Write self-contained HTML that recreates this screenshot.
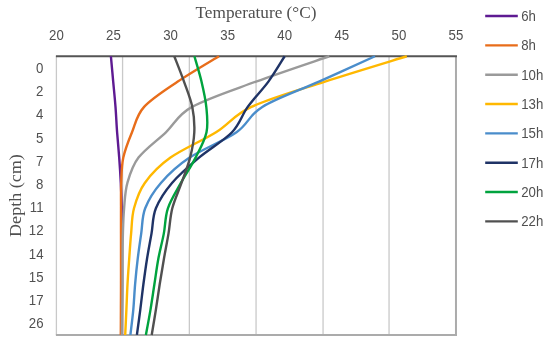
<!DOCTYPE html>
<html><head><meta charset="utf-8"><title>Temperature vs depth</title>
<style>
html,body{margin:0;padding:0;background:#fff;width:550px;height:347px;overflow:hidden}
svg{display:block}
.n{font-family:"Liberation Sans",sans-serif;font-size:14.4px;fill:#505050}
.t{font-family:"Liberation Serif",serif;font-size:17.6px;fill:#505050}
</style></head><body>
<svg width="550" height="347" viewBox="0 0 550 347">
<line x1="56.40" y1="56.25" x2="56.40" y2="334.95" stroke="#c9c9c9" stroke-width="1.3"/>
<line x1="122.57" y1="56.25" x2="122.57" y2="334.95" stroke="#c9c9c9" stroke-width="1.3"/>
<line x1="189.35" y1="56.25" x2="189.35" y2="334.95" stroke="#c9c9c9" stroke-width="1.3"/>
<line x1="256.06" y1="56.25" x2="256.06" y2="334.95" stroke="#c9c9c9" stroke-width="1.3"/>
<line x1="323.06" y1="56.25" x2="323.06" y2="334.95" stroke="#c9c9c9" stroke-width="1.3"/>
<line x1="389.05" y1="56.25" x2="389.05" y2="334.95" stroke="#c9c9c9" stroke-width="1.3"/>
<line x1="455.97" y1="56.25" x2="455.97" y2="335.95" stroke="#ababab" stroke-width="2"/>
<line x1="55.9" y1="334.95" x2="456.97" y2="334.95" stroke="#ababab" stroke-width="2"/>
<line x1="55.9" y1="56.25" x2="456.97" y2="56.25" stroke="#555555" stroke-width="2"/>
<path d="M110.90,56.25 C111.28,60.47 112.43,73.14 113.20,81.59 C113.97,90.03 114.85,98.48 115.50,106.92 C116.15,115.37 116.48,123.81 117.10,132.26 C117.72,140.70 118.58,149.15 119.20,157.60 C119.82,166.04 120.38,174.49 120.80,182.93 C121.22,191.38 121.52,199.82 121.70,208.27 C121.88,216.71 121.85,225.16 121.90,233.60 C121.95,242.05 121.98,250.50 122.00,258.94 C122.02,267.39 122.00,275.83 122.00,284.28 C122.00,292.72 122.00,301.17 122.00,309.61 C122.00,318.06 122.00,330.73 122.00,334.95" fill="none" stroke="#5E1A92" stroke-width="2.4" stroke-linejoin="round" stroke-linecap="butt"/>
<path d="M219.00,56.25 C212.13,60.47 190.28,73.14 177.80,81.59 C165.32,90.03 151.73,98.48 144.10,106.92 C136.47,115.37 135.47,123.81 132.00,132.26 C128.53,140.70 125.10,149.15 123.30,157.60 C121.50,166.04 121.58,174.49 121.20,182.93 C120.82,191.38 121.03,199.82 121.00,208.27 C120.97,216.71 121.00,225.16 121.00,233.60 C121.00,242.05 121.00,250.50 121.00,258.94 C121.00,267.39 121.02,275.83 121.00,284.28 C120.98,292.72 120.93,301.17 120.90,309.61 C120.87,318.06 120.82,330.73 120.80,334.95" fill="none" stroke="#E86D1A" stroke-width="2.4" stroke-linejoin="round" stroke-linecap="butt"/>
<path d="M329.30,56.25 C317.08,60.47 278.88,73.14 256.00,81.59 C233.12,90.03 207.02,98.48 192.00,106.92 C176.98,115.37 174.82,123.81 165.90,132.26 C156.98,140.70 144.92,149.15 138.50,157.60 C132.08,166.04 129.80,174.49 127.40,182.93 C125.00,191.38 124.85,199.82 124.10,208.27 C123.35,216.71 123.15,225.16 122.90,233.60 C122.65,242.05 122.65,250.50 122.60,258.94 C122.55,267.39 122.65,275.83 122.60,284.28 C122.55,292.72 122.42,301.17 122.30,309.61 C122.18,318.06 121.97,330.73 121.90,334.95" fill="none" stroke="#9A9A9A" stroke-width="2.4" stroke-linejoin="round" stroke-linecap="butt"/>
<path d="M406.80,56.25 C393.17,60.47 350.90,73.14 325.00,81.59 C299.10,90.03 269.57,98.48 251.40,106.92 C233.23,115.37 229.48,123.81 216.00,132.26 C202.52,140.70 182.37,149.15 170.50,157.60 C158.63,166.04 150.88,174.49 144.80,182.93 C138.72,191.38 136.28,199.82 134.00,208.27 C131.72,216.71 131.90,225.16 131.10,233.60 C130.30,242.05 129.80,250.50 129.20,258.94 C128.60,267.39 127.97,275.83 127.50,284.28 C127.03,292.72 126.78,301.17 126.40,309.61 C126.02,318.06 125.40,330.73 125.20,334.95" fill="none" stroke="#FFB800" stroke-width="2.4" stroke-linejoin="round" stroke-linecap="butt"/>
<path d="M375.00,56.25 C365.67,60.47 337.78,73.14 319.00,81.59 C300.22,90.03 276.05,98.48 262.30,106.92 C248.55,115.37 248.62,123.81 236.50,132.26 C224.38,140.70 202.20,149.15 189.60,157.60 C177.00,166.04 168.30,174.49 160.90,182.93 C153.50,191.38 148.48,199.82 145.20,208.27 C141.92,216.71 142.45,225.16 141.20,233.60 C139.95,242.05 138.72,250.50 137.70,258.94 C136.68,267.39 135.83,275.83 135.10,284.28 C134.37,292.72 134.08,301.17 133.30,309.61 C132.52,318.06 130.88,330.73 130.40,334.95" fill="none" stroke="#4A8DCB" stroke-width="2.4" stroke-linejoin="round" stroke-linecap="butt"/>
<path d="M284.70,56.25 C281.98,60.47 274.57,73.14 268.40,81.59 C262.23,90.03 253.77,98.48 247.70,106.92 C241.63,115.37 240.12,123.81 232.00,132.26 C223.88,140.70 209.00,149.15 199.00,157.60 C189.00,166.04 179.18,174.49 172.00,182.93 C164.82,191.38 159.32,199.82 155.90,208.27 C152.48,216.71 152.98,225.16 151.50,233.60 C150.02,242.05 148.35,250.50 147.00,258.94 C145.65,267.39 144.52,275.83 143.40,284.28 C142.28,292.72 141.38,301.17 140.30,309.61 C139.22,318.06 137.47,330.73 136.90,334.95" fill="none" stroke="#1F3366" stroke-width="2.4" stroke-linejoin="round" stroke-linecap="butt"/>
<path d="M194.40,56.25 C195.58,60.47 199.52,73.14 201.50,81.59 C203.48,90.03 205.47,98.48 206.30,106.92 C207.13,115.37 208.28,123.81 206.50,132.26 C204.72,140.70 199.87,149.15 195.60,157.60 C191.33,166.04 185.52,174.49 180.90,182.93 C176.28,191.38 170.75,199.82 167.90,208.27 C165.05,216.71 165.40,225.16 163.80,233.60 C162.20,242.05 159.87,250.50 158.30,258.94 C156.73,267.39 155.70,275.83 154.40,284.28 C153.10,292.72 151.92,301.17 150.50,309.61 C149.08,318.06 146.67,330.73 145.90,334.95" fill="none" stroke="#00A33E" stroke-width="2.4" stroke-linejoin="round" stroke-linecap="butt"/>
<path d="M174.30,56.25 C175.92,60.47 181.00,73.14 184.00,81.59 C187.00,90.03 190.58,98.48 192.30,106.92 C194.02,115.37 194.67,123.81 194.30,132.26 C193.93,140.70 192.23,149.15 190.10,157.60 C187.97,166.04 184.47,174.49 181.50,182.93 C178.53,191.38 174.47,199.82 172.30,208.27 C170.13,216.71 169.90,225.16 168.50,233.60 C167.10,242.05 165.37,250.50 163.90,258.94 C162.43,267.39 161.03,275.83 159.70,284.28 C158.37,292.72 157.23,301.17 155.90,309.61 C154.57,318.06 152.40,330.73 151.70,334.95" fill="none" stroke="#505050" stroke-width="2.4" stroke-linejoin="round" stroke-linecap="butt"/>
<text transform="translate(56.40,40.4) scale(0.92,1)" text-anchor="middle" class="n">20</text>
<text transform="translate(113.48,40.4) scale(0.92,1)" text-anchor="middle" class="n">25</text>
<text transform="translate(170.56,40.4) scale(0.92,1)" text-anchor="middle" class="n">30</text>
<text transform="translate(227.64,40.4) scale(0.92,1)" text-anchor="middle" class="n">35</text>
<text transform="translate(284.73,40.4) scale(0.92,1)" text-anchor="middle" class="n">40</text>
<text transform="translate(341.81,40.4) scale(0.92,1)" text-anchor="middle" class="n">45</text>
<text transform="translate(398.89,40.4) scale(0.92,1)" text-anchor="middle" class="n">50</text>
<text transform="translate(455.97,40.4) scale(0.92,1)" text-anchor="middle" class="n">55</text>
<text transform="translate(43.5,72.86) scale(0.92,1)" text-anchor="end" class="n">0</text>
<text transform="translate(43.5,96.09) scale(0.92,1)" text-anchor="end" class="n">2</text>
<text transform="translate(43.5,119.31) scale(0.92,1)" text-anchor="end" class="n">4</text>
<text transform="translate(43.5,142.54) scale(0.92,1)" text-anchor="end" class="n">5</text>
<text transform="translate(43.5,165.76) scale(0.92,1)" text-anchor="end" class="n">7</text>
<text transform="translate(43.5,188.99) scale(0.92,1)" text-anchor="end" class="n">8</text>
<text transform="translate(43.5,212.21) scale(0.92,1)" text-anchor="end" class="n">11</text>
<text transform="translate(43.5,235.44) scale(0.92,1)" text-anchor="end" class="n">12</text>
<text transform="translate(43.5,258.66) scale(0.92,1)" text-anchor="end" class="n">14</text>
<text transform="translate(43.5,281.89) scale(0.92,1)" text-anchor="end" class="n">15</text>
<text transform="translate(43.5,305.11) scale(0.92,1)" text-anchor="end" class="n">17</text>
<text transform="translate(43.5,328.34) scale(0.92,1)" text-anchor="end" class="n">26</text>
<text transform="translate(256,17.6) scale(0.98,1)" text-anchor="middle" class="t">Temperature (°C)</text>
<text transform="translate(20.7,195.6) rotate(-90) scale(1.025,1)" text-anchor="middle" class="t">Depth (cm)</text>
<line x1="485.2" y1="16.00" x2="517.8" y2="16.00" stroke="#5E1A92" stroke-width="2.4"/>
<text transform="translate(521.2,20.90) scale(0.92,1)" class="n">6h</text>
<line x1="485.2" y1="45.34" x2="517.8" y2="45.34" stroke="#E86D1A" stroke-width="2.4"/>
<text transform="translate(521.2,50.24) scale(0.92,1)" class="n">8h</text>
<line x1="485.2" y1="74.68" x2="517.8" y2="74.68" stroke="#9A9A9A" stroke-width="2.4"/>
<text transform="translate(521.2,79.58) scale(0.92,1)" class="n">10h</text>
<line x1="485.2" y1="104.02" x2="517.8" y2="104.02" stroke="#FFB800" stroke-width="2.4"/>
<text transform="translate(521.2,108.92) scale(0.92,1)" class="n">13h</text>
<line x1="485.2" y1="133.36" x2="517.8" y2="133.36" stroke="#4A8DCB" stroke-width="2.4"/>
<text transform="translate(521.2,138.26) scale(0.92,1)" class="n">15h</text>
<line x1="485.2" y1="162.70" x2="517.8" y2="162.70" stroke="#1F3366" stroke-width="2.4"/>
<text transform="translate(521.2,167.60) scale(0.92,1)" class="n">17h</text>
<line x1="485.2" y1="192.04" x2="517.8" y2="192.04" stroke="#00A33E" stroke-width="2.4"/>
<text transform="translate(521.2,196.94) scale(0.92,1)" class="n">20h</text>
<line x1="485.2" y1="221.38" x2="517.8" y2="221.38" stroke="#505050" stroke-width="2.4"/>
<text transform="translate(521.2,226.28) scale(0.92,1)" class="n">22h</text>
</svg>
</body></html>
